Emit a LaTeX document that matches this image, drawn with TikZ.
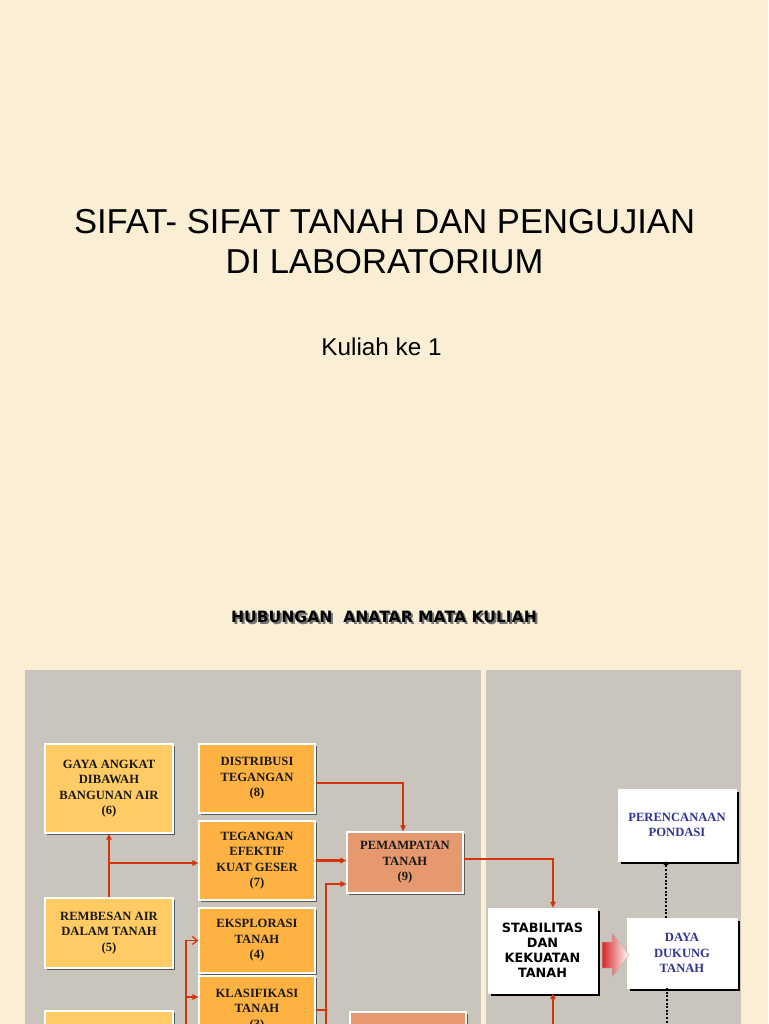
\documentclass[tikz,border=0pt]{standalone}
\usepackage{fontspec}
\setmainfont{Liberation Serif}
\newfontfamily\ttlfont{Liberation Sans}
\newfontfamily\tmsfont{Liberation Serif}
\newfontfamily\vrdfont{DejaVu Sans}
\usetikzlibrary{arrows.meta,shadows,calc}
\definecolor{bgc}{RGB}{250,239,213}
\definecolor{panelc}{RGB}{201,197,189}
\definecolor{yelc}{RGB}{255,203,100}
\definecolor{orgc}{RGB}{253,178,66}
\definecolor{salc}{RGB}{230,152,110}
\definecolor{redc}{RGB}{212,52,12}
\definecolor{navyc}{RGB}{51,51,150}
\definecolor{blkred}{RGB}{215,40,40}
\tikzset{
  cbox/.style={draw=white, line width=1.3pt, inner sep=0pt, align=center,
    font=\tmsfont\bfseries\fontsize{12.6}{15.5}\selectfont, text=black!90,
    drop shadow={shadow xshift=2pt, shadow yshift=-2pt, fill=black!65, opacity=1}},
  ybox/.style={cbox, fill=yelc, minimum width=128pt},
  obox/.style={cbox, fill=orgc, minimum width=116pt},
  sbox/.style={cbox, fill=salc, minimum width=116pt},
  wbox/.style={fill=white, draw=white, inner sep=0pt, align=center,
    drop shadow={shadow xshift=3pt, shadow yshift=-3pt, fill=black, opacity=1}},
  navytxt/.style={text=navyc, font=\tmsfont\bfseries\fontsize{12.6}{15.5}\selectfont},
  redline/.style={draw=redc, line width=1.3pt},
  redarrow/.style={redline, -{Triangle[length=6pt,width=5.5pt]}},
  openarrow/.style={redline, -{Straight Barb[length=5pt,width=8pt]}},
  dotline/.style={draw=black, line width=2.4pt, dash pattern=on 2pt off 1.6pt},
}
\begin{document}
\begin{tikzpicture}[x=1pt,y=-1pt]
\useasboundingbox (0,0) rectangle (768,1024);
\clip (0,0) rectangle (768,1024);
\fill[bgc] (0,0) rectangle (768,1024);

% titles
\node[font=\ttlfont\fontsize{34.6}{40}\selectfont, align=center] (title) at (384.5,242)
  {SIFAT- SIFAT TANAH DAN PENGUJIAN\\DI LABORATORIUM};
\node[font=\ttlfont\fontsize{24.3}{28}\selectfont] (sub) at (381.5,347) {Kuliah ke 1};
\node[font=\vrdfont\bfseries\fontsize{15.6}{18}\selectfont, text=black!55] (hubsh) at (386,619)
  {HUBUNGAN\ \ ANATAR MATA KULIAH};
\node[font=\vrdfont\bfseries\fontsize{15.6}{18}\selectfont, text=black] (hub) at (384,617)
  {HUBUNGAN\ \ ANATAR MATA KULIAH};

% panels
\fill[panelc] (25,670) rectangle (481,1030);
\fill[panelc] (486,670) rectangle (741,1030);

% boxes
\node[ybox, minimum height=89pt] (gaya) at (109,788.5) {GAYA ANGKAT\\DIBAWAH\\BANGUNAN AIR\\(6)};
\node[obox, minimum height=69pt] (distr) at (257,778.5) {DISTRIBUSI\\TEGANGAN\\(8)};
\node[obox, minimum height=79pt] (tegang) at (257,860.5) {TEGANGAN\\EFEKTIF\\KUAT GESER\\(7)};
\node[sbox, minimum height=61pt] (pemamp) at (405,862.5) {PEMAMPATAN\\TANAH\\(9)};
\node[ybox, minimum height=70pt] (rembes) at (109,933) {REMBESAN AIR\\DALAM TANAH\\(5)};
\node[obox, minimum height=65pt] (eksplo) at (257,940.5) {EKSPLORASI\\TANAH\\(4)};
\node[obox, minimum height=68pt] (klasif) at (257,1010) {KLASIFIKASI\\TANAH\\(3)};
\node[ybox, minimum height=68pt] (botleft) at (109,1045) {};
\node[sbox, minimum height=68pt] (botmid) at (408,1046) {};

\node[wbox, minimum width=109pt, minimum height=85pt,
  font=\vrdfont\bfseries\fontsize{12.8}{15}\selectfont] (stabil) at (542.5,950.5)
  {STABILITAS\\DAN\\KEKUATAN\\TANAH};
\node[wbox, navytxt, minimum width=110pt, minimum height=70pt] (daya) at (682,953)
  {DAYA\\DUKUNG\\TANAH};
\node[wbox, navytxt, minimum width=118pt, minimum height=72pt] (peren) at (677,825)
  {PERENCANAAN\\PONDASI};

% connectors
\draw[redarrow] ([yshift=-4.5pt]distr.east) -| ([xshift=-2pt]pemamp.north);
\draw[redarrow] (rembes.north) -- (gaya.south);
\coordinate (j1) at ($(rembes.north |- tegang.west)+(0,2.5)$);
\draw[redarrow, line width=1.7pt] (j1) -- (j1 -| tegang.west);
\draw[redarrow, line width=2.2pt] (tegang.east) -- (tegang.east -| pemamp.west);

\coordinate (b1) at (326,1030);
\coordinate (p9) at ([yshift=-21.5pt]pemamp.west);
\draw[redarrow] (b1) |- (p9);
\draw[redline] (klasif.east) -- (klasif.east -| b1);

\coordinate (b2) at (186,1030);
\coordinate (k2) at ([yshift=13pt]klasif.west);
\draw[openarrow] (b2) |- (eksplo.west);
\draw[redarrow] (b2 |- k2) -- (k2);

\coordinate (st) at ([xshift=10.5pt]stabil.north);
\draw[redarrow] ([yshift=3.5pt]pemamp.east) -| (st);
\coordinate (b3) at (553,1030);
\draw[redarrow] (b3) -- (b3 |- stabil.south);

% block arrow between stabil and daya
\path ([xshift=5pt,yshift=-4.5pt]stabil.east) coordinate (bc);
\shade[left color=blkred, right color=white, draw=black!30, line width=0.4pt]
  ($(bc)+(0,-13)$) -- ($(bc)+(10,-13)$) -- ($(bc)+(10,-22)$) -- ($(bc)+(27,0)$)
  -- ($(bc)+(10,22)$) -- ($(bc)+(10,13)$) -- ($(bc)+(0,13)$) -- cycle;

% dotted
\coordinate (dx) at ([xshift=-16pt]daya.north);
\draw[dotline, -{Triangle[length=4pt,width=5pt]}] (dx) -- (dx |- peren.south);
\coordinate (dy) at ([xshift=-15pt]daya.south);
\coordinate (b4) at (667,1030);
\draw[dotline] (dy) -- (b4);
\end{tikzpicture}
\end{document}
